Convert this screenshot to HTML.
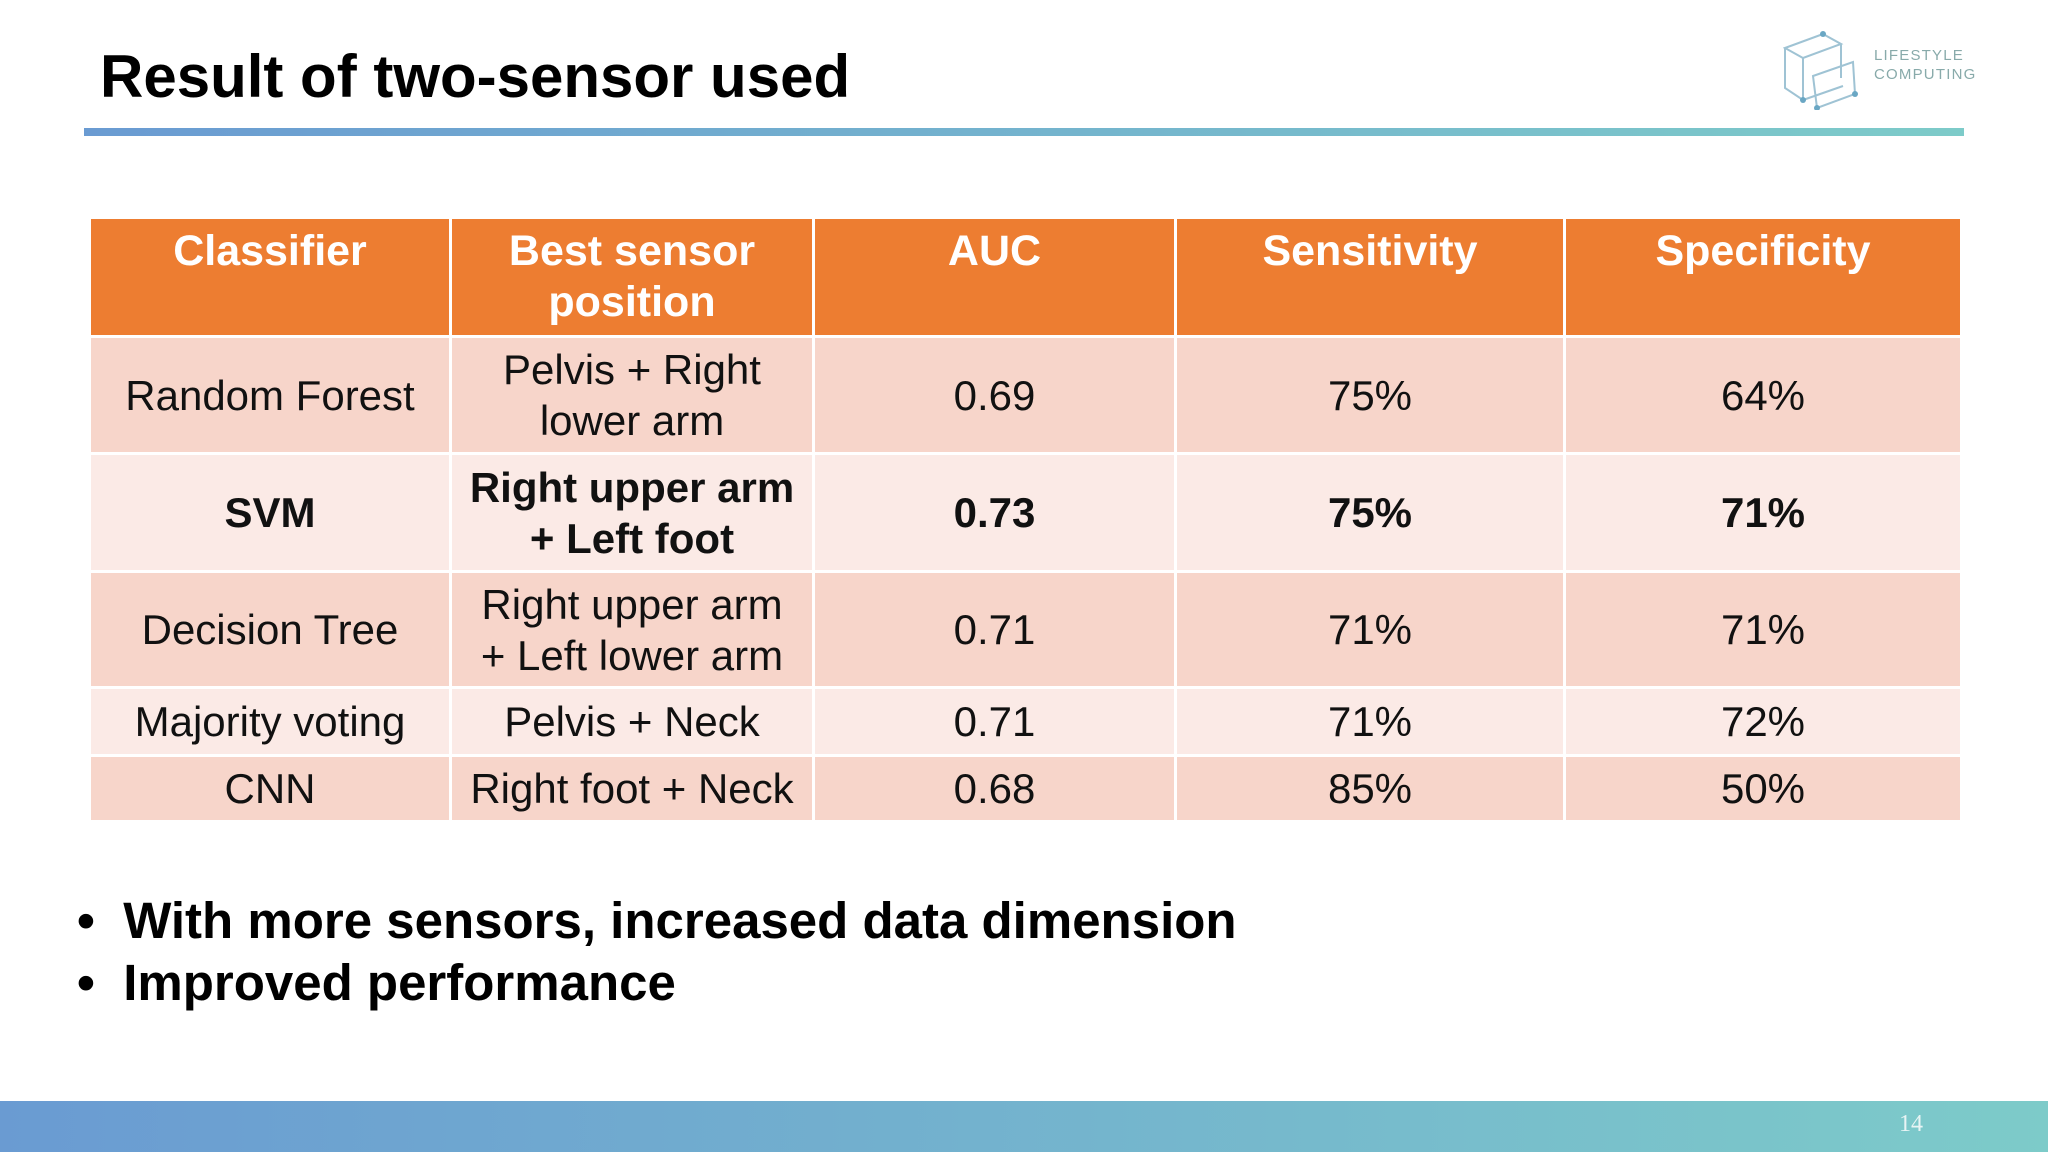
<!DOCTYPE html>
<html><head><meta charset="utf-8"><style>
body{margin:0;width:2048px;height:1152px;background:#fff;position:relative;overflow:hidden;font-family:"Liberation Sans",Arial,sans-serif}
.abs{position:absolute}
table{position:absolute;left:88px;top:216px;width:1872px;border-collapse:collapse;table-layout:fixed}
td,th{border:3px solid #fff;text-align:center;vertical-align:middle;padding:0;font-size:42px;line-height:51px;color:#111}
th{background:#ED7D31;color:#fff;font-size:43px;font-weight:bold;vertical-align:top;padding-top:7px;line-height:51px}
tr.o td{background:#F7D5CA}
tr.e td{background:#FBEAE6}
tr.b td{font-weight:bold}
</style></head><body>
<div class="abs" style="left:100px;top:42px;font-size:60px;font-weight:bold;color:#000">Result of two-sensor used</div>
<div class="abs" style="left:84px;top:128px;width:1880px;height:8px;background:linear-gradient(90deg,#6A9BD2,#7DCBC9)"></div>
<svg class="abs" style="left:1783px;top:28px" width="210" height="82">
<g stroke="#9fc3d4" stroke-width="2" fill="none"><path d="M2 20 L40 6 L58 16 L20 30 Z M2 20 V60 L20 72 V30 M58 16 V50 M20 72 L60 58 M30 48 L70 34 L72 66 L34 80 Z"/></g>
<g fill="#6aa7c4"><circle cx="40" cy="6" r="3"/><circle cx="20" cy="72" r="3"/><circle cx="72" cy="66" r="3"/><circle cx="34" cy="80" r="3"/></g>
<text x="91" y="32" font-size="15" fill="#8aa" font-family="Liberation Sans" letter-spacing="1.2">LIFESTYLE</text>
<text x="91" y="51" font-size="15" fill="#8aa" font-family="Liberation Sans" letter-spacing="1.2">COMPUTING</text>
</svg>
<table>
<colgroup><col style="width:361px"><col style="width:363px"><col style="width:362px"><col style="width:389px"><col style="width:397px"></colgroup>
<tr style="height:119px"><th>Classifier</th><th>Best sensor<br>position</th><th>AUC</th><th>Sensitivity</th><th>Specificity</th></tr>
<tr class="o" style="height:117px"><td>Random Forest</td><td>Pelvis + Right<br>lower arm</td><td>0.69</td><td>75%</td><td>64%</td></tr>
<tr class="e b" style="height:118px"><td>SVM</td><td>Right upper arm<br>+ Left foot</td><td>0.73</td><td>75%</td><td>71%</td></tr>
<tr class="o" style="height:116px"><td>Decision Tree</td><td>Right upper arm<br>+ Left lower arm</td><td>0.71</td><td>71%</td><td>71%</td></tr>
<tr class="e" style="height:68px"><td>Majority voting</td><td>Pelvis + Neck</td><td>0.71</td><td>71%</td><td>72%</td></tr>
<tr class="o" style="height:66px"><td>CNN</td><td>Right foot + Neck</td><td>0.68</td><td>85%</td><td>50%</td></tr>
</table>
<div class="abs" style="left:77px;top:890px;font-size:51px;font-weight:bold;line-height:62px;color:#000">
<div>•&nbsp;&nbsp;With more sensors, increased data dimension</div>
<div>•&nbsp;&nbsp;Improved performance</div>
</div>
<div class="abs" style="left:0;top:1101px;width:2048px;height:51px;background:linear-gradient(90deg,#6A9BD2,#7DCBC9)"></div>
<div class="abs" style="left:1899px;top:1111px;font-size:24px;color:#e8f4f4;font-family:'Liberation Serif',serif">14</div>
</body></html>
